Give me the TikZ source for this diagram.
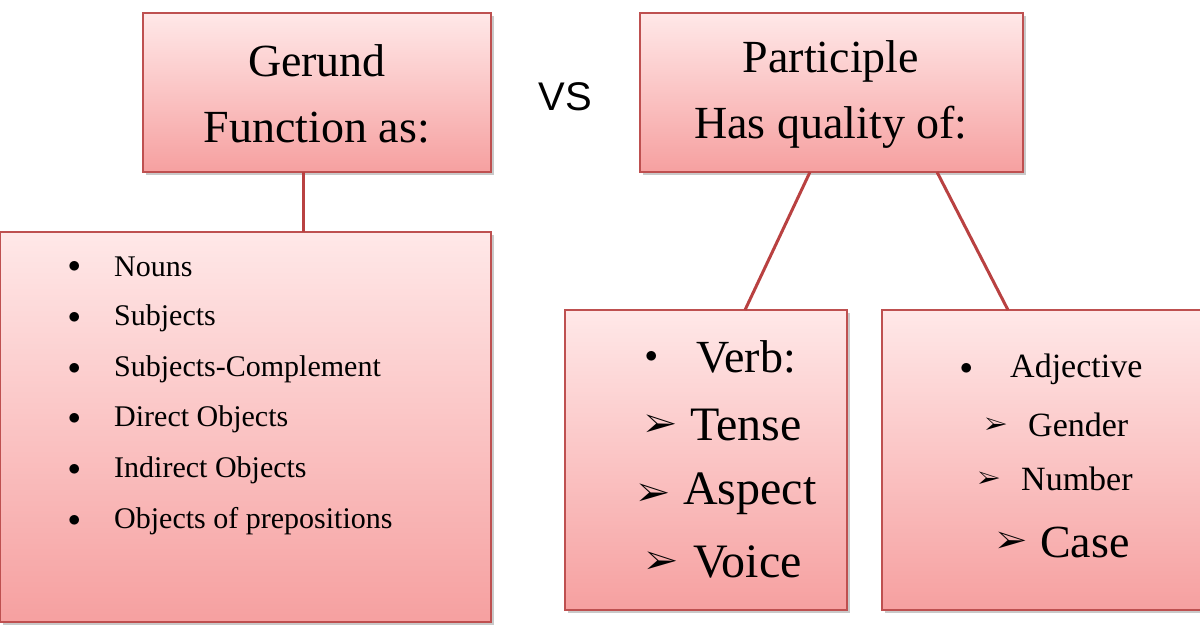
\documentclass[tikz,border=0pt]{standalone}
\usepackage{fontspec}
\setmainfont{Liberation Serif}
\newfontfamily\vsfont{Liberation Sans}
\usepackage{pifont}
\usetikzlibrary{shadows}
\definecolor{bord}{RGB}{190,80,80}
\definecolor{lnk}{RGB}{185,65,65}
\definecolor{topc}{RGB}{255,232,232}
\definecolor{botc}{RGB}{246,160,160}
\tikzset{
  box/.style={draw=bord,line width=1.2pt,top color=topc,bottom color=botc,
    drop shadow={shadow xshift=3pt,shadow yshift=-3pt,fill=black!35,opacity=0.6}},
  conn/.style={draw=lnk,line width=3pt},
  t/.style={anchor=west,inner sep=0pt},
}
\newcommand{\arr}{\ding{226}}
\begin{document}
\begin{tikzpicture}[x=1pt,y=-1pt]
\useasboundingbox (0,0) rectangle (1200,630);
\fill[white] (0,0) rectangle (1200,630);
% boxes
\path[box] (143,13) rectangle (491,172); \coordinate (gb) at (303,172);
\path[box] (640,13) rectangle (1023,172);
\path[box] (0,232) rectangle (491,622); \coordinate (lt) at (303,232);
\path[box] (565,310) rectangle (847,610);
\path[box] (882,310) rectangle (1203,610);
\coordinate (p1) at (810,172); \coordinate (v1) at (745,310);
\coordinate (p2) at (937,172); \coordinate (a1) at (1008,310);
\draw[conn] (gb) -- (lt);
\draw[conn] (p1) -- (v1);
\draw[conn] (p2) -- (a1);
% titles
\node[align=center,font=\fontsize{46}{66}\selectfont] (g) at (317,94) {Gerund\\Function as:};
\node[align=center,font=\fontsize{46}{66}\selectfont] (p) at (831,94) {Participle\\Has quality of:};
\node[font=\vsfont\fontsize{40}{40}\selectfont] (vs) at (565,97) {VS};
% list
\foreach \y/\s [count=\i] in {267/Nouns,318/Subjects,369/Subjects-Complement,419/Direct Objects,470/Indirect Objects,521/Objects of prepositions}{
  \node[t,font=\fontsize{30}{30}\selectfont] (b\i) at (68,\y) {$\bullet$};
  \node[t,font=\fontsize{30}{30}\selectfont] (l\i) at (114,\y) {\s};
}
% verb box
\node[t,font=\fontsize{46}{46}\selectfont] (vb) at (645,357) {$\bullet$};
\node[t,font=\fontsize{46}{46}\selectfont] (vt) at (696,357) {Verb:};
\node[t,font=\fontsize{34}{34}\selectfont] (ta) at (645,425) {\arr};
\node[t,font=\fontsize{48}{48}\selectfont] (tt) at (690,425) {Tense};
\node[t,font=\fontsize{34}{34}\selectfont] (aa) at (638,494) {\arr};
\node[t,font=\fontsize{48}{48}\selectfont] (at) at (683,494) {Aspect};
\node[t,font=\fontsize{34}{34}\selectfont] (oa) at (646,562) {\arr};
\node[t,font=\fontsize{48}{48}\selectfont] (ot) at (693,562) {Voice};
% adjective box
\node[t,font=\fontsize{32}{32}\selectfont] (jb) at (960,369) {$\bullet$};
\node[t,font=\fontsize{34}{34}\selectfont] (jt) at (1010,369) {Adjective};
\node[t,font=\fontsize{24}{24}\selectfont] (ga) at (985,425) {\arr};
\node[t,font=\fontsize{34}{34}\selectfont] (gt) at (1028,425) {Gender};
\node[t,font=\fontsize{24}{24}\selectfont] (na) at (978,479) {\arr};
\node[t,font=\fontsize{34}{34}\selectfont] (nt) at (1021,479) {Number};
\node[t,font=\fontsize{32}{32}\selectfont] (ca) at (997,542) {\arr};
\node[t,font=\fontsize{46}{46}\selectfont] (ct) at (1040,542) {Case};
\end{tikzpicture}
\end{document}
